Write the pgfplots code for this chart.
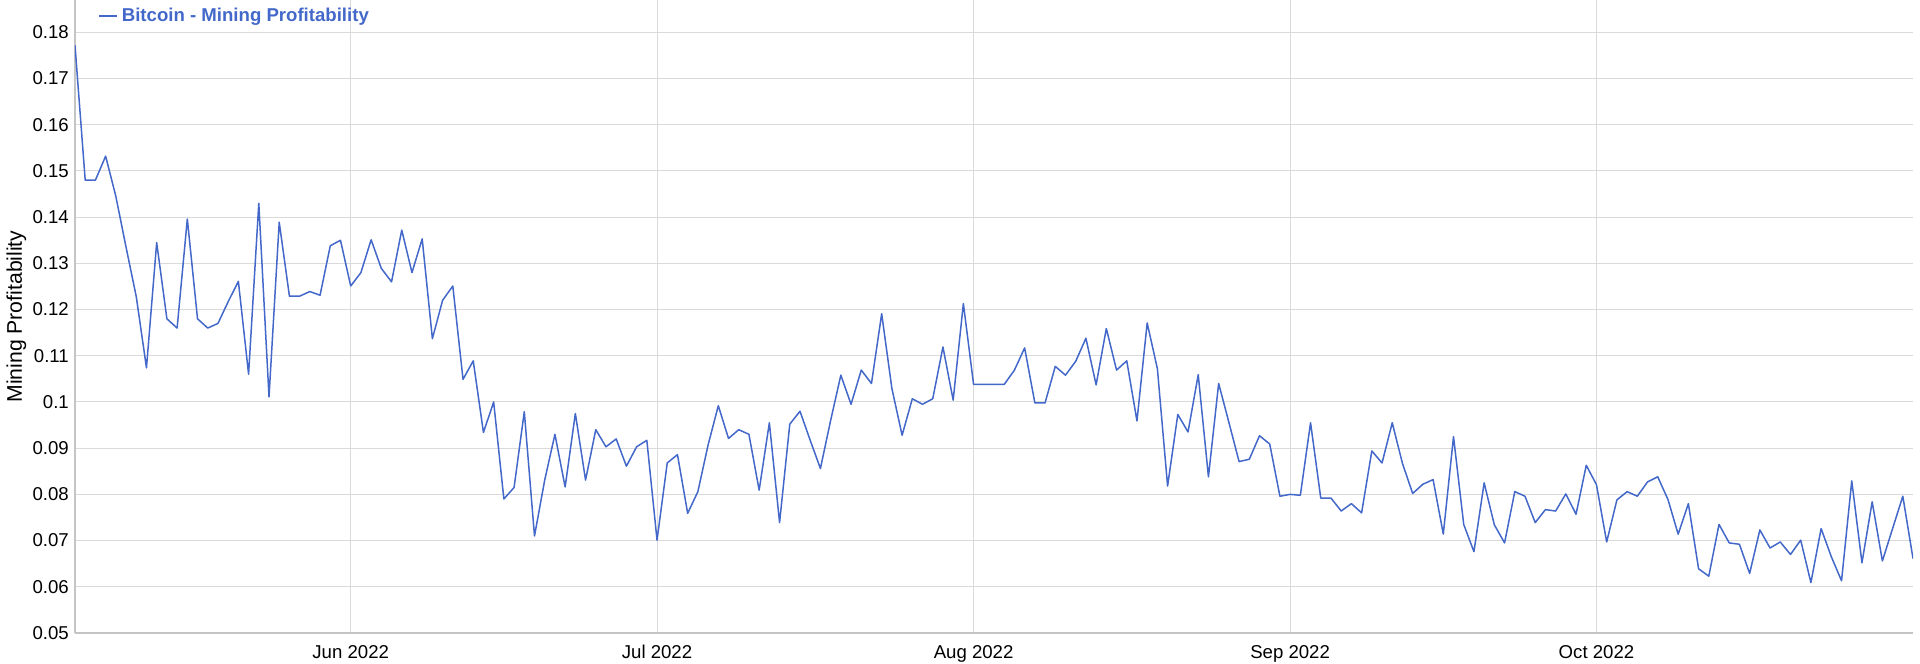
\documentclass[border=0pt]{standalone}
\usepackage{fontspec}
\setmainfont{Liberation Sans}
\usepackage{pgfplots}
\usepackage{pgfplotstable}
\pgfplotsset{compat=1.18}
\definecolor{btcblue}{HTML}{4368C9}
\definecolor{gridgray}{HTML}{DADADA}
\definecolor{axisgray}{HTML}{C4C4C4}

% day 0 = 2022-05-05, one row per day
\pgfplotstableread{
day value
0 0.1772
1 0.1480
2 0.1480
3 0.1532
4 0.1445
5 0.1335
6 0.1228
7 0.1074
8 0.1345
9 0.1180
10 0.1160
11 0.1396
12 0.1180
13 0.1160
14 0.1170
15 0.1217
16 0.1261
17 0.1060
18 0.1430
19 0.1011
20 0.1389
21 0.1229
22 0.1229
23 0.1239
24 0.1231
25 0.1338
26 0.1350
27 0.1251
28 0.1280
29 0.1351
30 0.1289
31 0.1260
32 0.1372
33 0.1280
34 0.1353
35 0.1137
36 0.1220
37 0.1251
38 0.1049
39 0.1089
40 0.0934
41 0.1000
42 0.0790
43 0.0815
44 0.0979
45 0.0710
46 0.0831
47 0.0930
48 0.0816
49 0.0975
50 0.0831
51 0.0940
52 0.0903
53 0.0920
54 0.0861
55 0.0903
56 0.0917
57 0.0701
58 0.0868
59 0.0886
60 0.0759
61 0.0806
62 0.0907
63 0.0992
64 0.0921
65 0.0940
66 0.0930
67 0.0809
68 0.0955
69 0.0739
70 0.0952
71 0.0980
72 0.0917
73 0.0856
74 0.0960
75 0.1058
76 0.0995
77 0.1069
78 0.1040
79 0.1191
80 0.1029
81 0.0928
82 0.1007
83 0.0995
84 0.1007
85 0.1119
86 0.1004
87 0.1213
88 0.1038
89 0.1038
90 0.1038
91 0.1038
92 0.1069
93 0.1117
94 0.0998
95 0.0998
96 0.1077
97 0.1058
98 0.1088
99 0.1138
100 0.1037
101 0.1159
102 0.1069
103 0.1089
104 0.0959
105 0.1171
106 0.1072
107 0.0818
108 0.0973
109 0.0935
110 0.1059
111 0.0838
112 0.1040
113 0.0956
114 0.0871
115 0.0876
116 0.0927
117 0.0909
118 0.0796
119 0.0800
120 0.0798
121 0.0955
122 0.0792
123 0.0792
124 0.0764
125 0.0780
126 0.0760
127 0.0894
128 0.0868
129 0.0955
130 0.0867
131 0.0802
132 0.0822
133 0.0832
134 0.0714
135 0.0925
136 0.0735
137 0.0676
138 0.0825
139 0.0734
140 0.0695
141 0.0806
142 0.0796
143 0.0739
144 0.0767
145 0.0764
146 0.0801
147 0.0757
148 0.0863
149 0.0821
150 0.0697
151 0.0788
152 0.0806
153 0.0796
154 0.0827
155 0.0838
156 0.0789
157 0.0714
158 0.0780
159 0.0639
160 0.0623
161 0.0735
162 0.0695
163 0.0692
164 0.0629
165 0.0723
166 0.0684
167 0.0697
168 0.0670
169 0.0701
170 0.0609
171 0.0726
172 0.0665
173 0.0613
174 0.0829
175 0.0652
176 0.0784
177 0.0656
178 0.0726
179 0.0796
180 0.0661
}\profitdata

\begin{document}
\begin{tikzpicture}
\begin{axis}[
    scale only axis,
    width=919pt,
    height=316.5pt,
    xmin=0, xmax=180,
    ymin=0.05, ymax=0.187,
    xtick={27,57,88,119,149},
    xticklabels={Jun 2022, Jul 2022, Aug 2022, Sep 2022, Oct 2022},
    ytick={0.05,0.06,0.07,0.08,0.09,0.10,0.11,0.12,0.13,0.14,0.15,0.16,0.17,0.18},
    scaled y ticks=false,
    yticklabel={\pgfmathprintnumber[fixed,precision=2,assume math mode=true]{\tick}},
    tick label style={font=\fontsize{9.3}{11}\selectfont, text=black},
    yticklabel style={anchor=east, inner sep=0pt, xshift=-2.9pt},
    xticklabel style={anchor=north, inner sep=0pt, yshift=-6pt},
    major tick length=0pt,
    tick style={draw=none},
    axis line style={draw=none},
    xmajorgrids, ymajorgrids,
    grid style={draw=gridgray, line width=0.5pt},
    % left and bottom axis lines as darker grid lines
    extra x ticks={0},
    extra x tick labels={},
    extra x tick style={major grid style={draw=axisgray, line width=0.6pt}},
    extra y ticks={0.05},
    extra y tick labels={},
    extra y tick style={major grid style={draw=axisgray, line width=1.1pt}},
    ylabel={Mining Profitability},
    ylabel style={font=\fontsize{10.6}{12}\selectfont, at={(axis description cs:-0.0319,0.5)}, anchor=center},
    legend style={at={(axis description cs:0,0.9747)}, anchor=west, xshift=11.5pt,
        draw=none, fill=none, inner sep=0pt,
        font=\fontsize{9.3}{11}\selectfont\bfseries, text=btcblue},
    legend image code/.code={\draw[#1] (0pt,0pt) -- (9pt,0pt);},
]
\addplot[btcblue, line width=0.75pt, line join=round] table[x=day, y=value] {\profitdata};
\addlegendentry{Bitcoin - Mining Profitability}
\end{axis}
\pgfresetboundingbox
\path[use as bounding box] ([shift={(-37.5pt,-15.15pt)}]current axis.south west) rectangle ([shift={(3.5pt,0pt)}]current axis.north east);
\end{tikzpicture}
\end{document}
